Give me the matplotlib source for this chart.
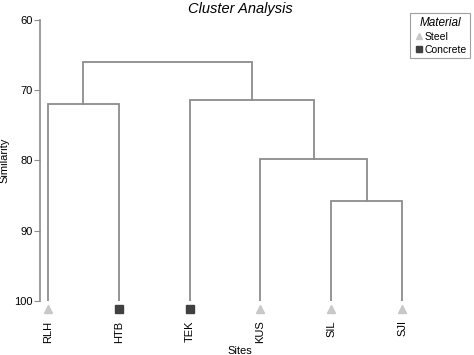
import matplotlib
matplotlib.use("Agg")
import matplotlib.pyplot as plt
from matplotlib.lines import Line2D

plt.rcParams["font.family"] = ["Liberation Sans", "DejaVu Sans"]

# leaves, left to right
sites = ["RLH", "HTB", "TEK", "KUS", "SIL", "SJI"]
material = ["Steel", "Concrete", "Concrete", "Steel", "Steel", "Steel"]

# merges: (left node, right node, similarity); nodes 0-5 are leaves, 6+ are merges
merges = [
    (0, 1, 72.0),
    (4, 5, 85.8),
    (3, 7, 79.8),
    (2, 8, 71.5),
    (6, 9, 66.0),
]

line_col = "#8c8c8c"
mat_style = {"Steel": ("^", "#c8c8c8"), "Concrete": ("s", "#404040")}

fig = plt.figure(figsize=(4.74, 3.55), dpi=100)
ax = fig.add_axes([0.084, 0.152, 0.845, 0.793])

xpos = list(range(len(sites)))
ypos = [100.0] * len(sites)
for a, b, h in merges:
    ax.plot([xpos[a], xpos[a], xpos[b], xpos[b]], [ypos[a], h, h, ypos[b]],
            color=line_col, lw=1.3, solid_joinstyle="miter")
    xpos.append((xpos[a] + xpos[b]) / 2)
    ypos.append(h)

for i, m in enumerate(material):
    mk, c = mat_style[m]
    ax.plot(i, 101.1, marker=mk, color=c, ms=5.5, ls="none", clip_on=False)

ax.set_ylim(100, 60)
ax.set_xlim(-0.113, 5.54)
ax.set_yticks([60, 70, 80, 90, 100])
ax.set_xticks(range(len(sites)))
ax.set_xticklabels(sites, rotation=90, fontsize=8)
ax.tick_params(axis="x", length=0, pad=14)
ax.tick_params(axis="y", labelsize=8, length=4, color=line_col, pad=1)
for s in ["top", "right", "bottom"]:
    ax.spines[s].set_visible(False)
ax.spines["left"].set_color(line_col)
ax.spines["left"].set_linewidth(1.2)

ax.set_ylabel("Similarity", fontsize=8)
ax.yaxis.set_label_coords(-0.075, 0.5)
ax.set_xlabel("Sites", fontsize=8, labelpad=2)
ax.set_title("Cluster Analysis", fontsize=10.5, style="italic", pad=5)

handles = [Line2D([], [], marker=mat_style[m][0], color=mat_style[m][1], ls="none", ms=5)
           for m in ["Steel", "Concrete"]]
leg = fig.legend(handles, ["Steel", "Concrete"], title="Material", loc="upper right",
                 bbox_to_anchor=(0.992, 0.962), fontsize=7.5, title_fontsize=8.5,
                 frameon=True, fancybox=False, edgecolor="#888888",
                 handletextpad=0.1, handlelength=1.0, borderpad=0.3,
                 labelspacing=0.3, borderaxespad=0)
leg.get_title().set_style("italic")
leg.get_frame().set_linewidth(0.8)

fig.savefig("out.png", dpi=100)
